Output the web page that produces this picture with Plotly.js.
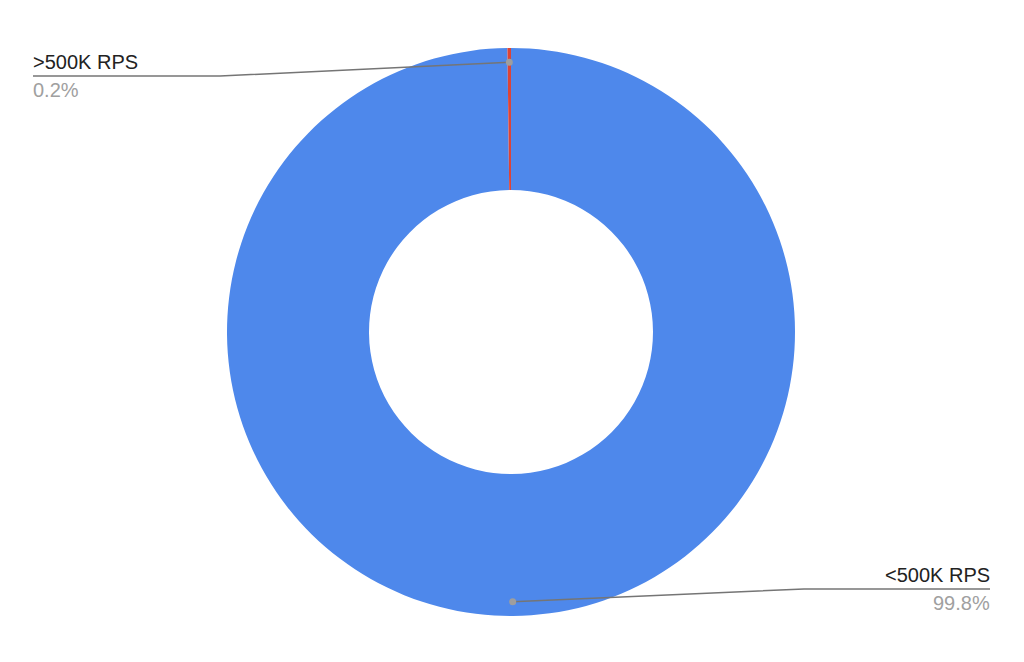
<!DOCTYPE html>
<html>
<head>
<meta charset="utf-8">
<script src="https://cdn.plot.ly/plotly-3.0.1.min.js"></script>
<style>
  html, body { margin: 0; padding: 0; background: #fff; }
  #chart { width: 1024px; height: 662px; }
</style>
</head>
<body>
<div id="chart"></div>
<script>
// datos del gráfico
const etiquetas = ['<500K RPS', '>500K RPS'];
const valores = [99.8, 0.2];
const colores = ['#4e88eb', '#dc4437'];

const W = 1024, H = 662;
// centro y radio del donut (px)
const cx = 511, cy = 332, R = 284;

// ====================================
// TRAZA PRINCIPAL
// ====================================
const trazas = [{
    type: 'pie',
    labels: etiquetas,
    values: valores,
    hole: 0.5,
    sort: false,
    direction: 'clockwise',
    rotation: 0,
    textinfo: 'none',
    hoverinfo: 'label+percent',
    marker: { colors: colores, line: { width: 0 } },
    domain: {
        x: [(cx - R) / W, (cx + R) / W],
        y: [1 - (cy + R) / H, 1 - (cy - R) / H]
    }
}];

// ====================================
// ETIQUETAS EXTERNAS CON LÍNEAS GUÍA
// ====================================
const px = x => x / W;
const py = y => 1 - y / H;

// posición de cada etiqueta: codo y extremo de la línea
const guias = [
    { codoX: 804, finX: 990, lineaY: 589, lado: 'right' },
    { codoX: 220, finX: 33, lineaY: 76, lado: 'left' }
];

const total = valores.reduce((a, b) => a + b, 0);
const formas = [];
const anotaciones = [];
let acumulado = 0;

valores.forEach((v, i) => {
    const medio = (acumulado + v / 2) / total * 2 * Math.PI;
    acumulado += v;
    const rp = R * 0.95;
    const dx = cx + rp * Math.sin(medio);
    const dy = cy - rp * Math.cos(medio);
    const g = guias[i];
    // compensar el relleno interno de las anotaciones
    const desplaz = g.lado === 'left' ? -2 : 2;

    formas.push({
        type: 'path', xref: 'paper', yref: 'paper',
        path: `M ${px(dx)} ${py(dy)} L ${px(g.codoX)} ${py(g.lineaY)} L ${px(g.finX)} ${py(g.lineaY)}`,
        line: { color: '#757575', width: 1.5 }
    });
    formas.push({
        type: 'circle', xref: 'paper', yref: 'paper',
        x0: px(dx - 3.5), x1: px(dx + 3.5), y0: py(dy + 3.5), y1: py(dy - 3.5),
        fillcolor: '#9e9e9e', line: { width: 0 }
    });

    const pct = (v / total * 100).toFixed(1) + '%';
    anotaciones.push({
        xref: 'paper', yref: 'paper', showarrow: false,
        x: px(g.finX), y: py(g.lineaY - 14), xshift: desplaz,
        xanchor: g.lado, yanchor: 'middle',
        text: etiquetas[i],
        font: { family: 'Liberation Sans, Arial, sans-serif', size: 20, color: '#222222' }
    });
    anotaciones.push({
        xref: 'paper', yref: 'paper', showarrow: false,
        x: px(g.finX), y: py(g.lineaY + 14), xshift: desplaz,
        xanchor: g.lado, yanchor: 'middle',
        text: pct,
        font: { family: 'Liberation Sans, Arial, sans-serif', size: 20, color: '#a0a0a0' }
    });
});

const layout = {
    width: W,
    height: H,
    margin: { l: 0, r: 0, t: 0, b: 0 },
    paper_bgcolor: '#ffffff',
    showlegend: false,
    shapes: formas,
    annotations: anotaciones
};

Plotly.newPlot('chart', trazas, layout, { displayModeBar: false, staticPlot: true });
</script>
</body>
</html>
